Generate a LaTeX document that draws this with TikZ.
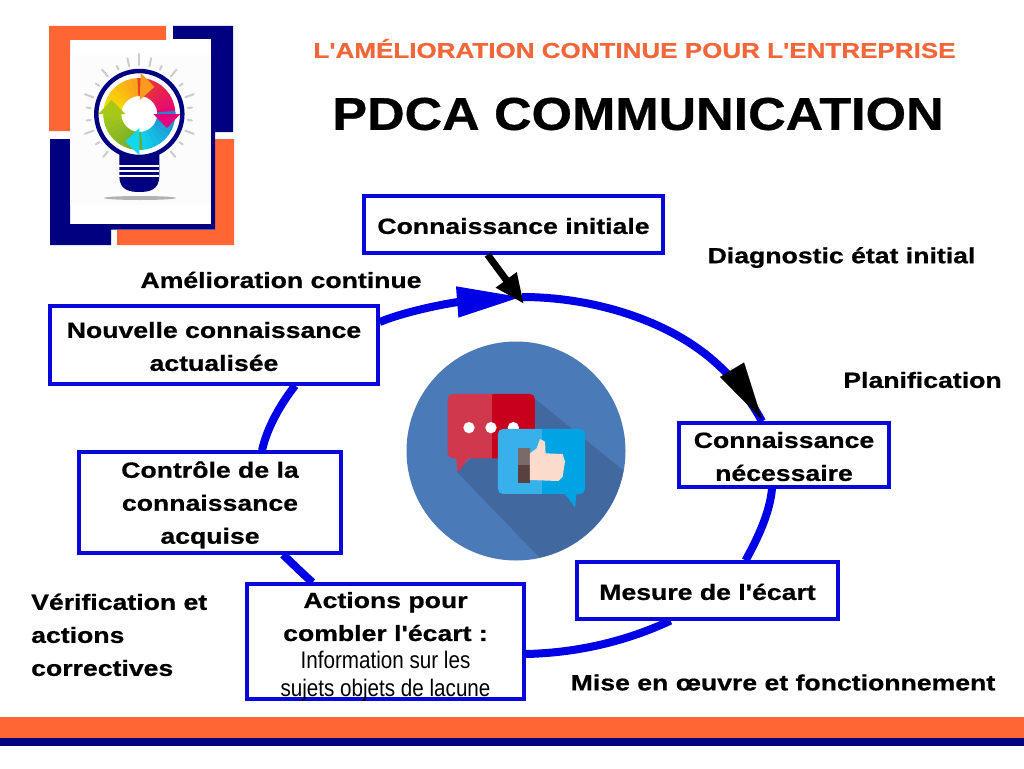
\documentclass[tikz,border=0pt]{standalone}
\usepackage{fontspec}
\setmainfont{Liberation Sans}
\newfontfamily\wb{Liberation Sans}[FakeStretch=1.21,BoldFeatures={FakeStretch=1.21,FakeBold=0.7}]
\newfontfamily\wt{Liberation Sans}[FakeStretch=1.13,BoldFeatures={FakeStretch=1.13,FakeBold=0.7}]
\newfontfamily\nrw{Liberation Sans}[FakeStretch=0.86]
\usetikzlibrary{arrows.meta,backgrounds}
\definecolor{ringblue}{HTML}{0000E6}
\definecolor{boxblue}{HTML}{0808DC}
\definecolor{navy}{HTML}{000080}
\definecolor{orng}{HTML}{FF6633}
\definecolor{ttl}{HTML}{F2673A}
\definecolor{disc}{HTML}{4A7AB8}
\definecolor{discd}{HTML}{41699F}
\definecolor{redl}{HTML}{D0384E}
\definecolor{redd}{HTML}{C8001E}
\definecolor{bluel}{HTML}{38B0EA}
\definecolor{blued}{HTML}{00A4E4}
\definecolor{slvl}{HTML}{7A6A6A}
\definecolor{slvd}{HTML}{5A4040}
\definecolor{skin}{HTML}{FBDCCC}
\definecolor{y1}{HTML}{F7E600}\definecolor{y2}{HTML}{FB9A1E}
\definecolor{r1}{HTML}{E84028}\definecolor{r2}{HTML}{E5007D}
\definecolor{b1}{HTML}{2088CC}\definecolor{b2}{HTML}{10D8F0}
\definecolor{g1}{HTML}{6CAB2E}\definecolor{g2}{HTML}{A8C818}
\newcommand{\up}[1]{\rule{0pt}{#1}}
\tikzset{
  kbox/.style={draw=boxblue,line width=3.2pt,fill=white,inner sep=0pt,align=center,
    font=\fontsize{22}{33}\selectfont\wb\bfseries},
  lbl/.style={inner sep=0pt,align=left,font=\fontsize{22}{33}\selectfont\wb\bfseries,text=black},
  ring/.style={draw=ringblue,line width=8pt,line cap=butt},
  ray/.style={draw=black!20,line width=2pt,line cap=round}
}
\newcommand{\ringbody}[3]{%
  \foreach \s in {0,...,9}{%
    \pgfmathsetmacro{\aa}{#1+95-\s*10}%
    \pgfmathsetmacro{\ab}{#1+95-(\s+1)*10-1}%
    \pgfmathtruncatemacro{\p}{100-\s*11}%
    \fill[#2!\p!#3] (\aa:18) arc[start angle=\aa,end angle=\ab,radius=18] -- (\ab:36)
      arc[start angle=\ab,end angle=\aa,radius=36] -- cycle;
  }}
\newcommand{\ringhead}[2]{%
  \fill[#2] (#1:14) -- (#1:41) -- ({#1-27}:31) -- cycle;}
\begin{document}
\begin{tikzpicture}[x=1pt,y=-1pt]
\useasboundingbox (0,0) rectangle (1024,768);
% logo frame
\fill[orng] (49,26) -- (166,26) -- (166,40) -- (70,40) -- (70,131) -- (49,131) -- cycle;
\fill[navy] (173,26) -- (233,26) -- (233,132) -- (215,132) -- (215,139) -- (211,139) -- (211,39) -- (173,39) -- cycle;
\fill[orng] (215,139) -- (234,139) -- (234,245) -- (117,245) -- (117,230) -- (215,230) -- cycle;
\fill[navy] (50,139) -- (70,139) -- (70,224) -- (211,224) -- (211,139) -- (215,139) -- (215,229.5) -- (111,229.5) -- (111,245) -- (50,245) -- cycle;
% logo bulb
\fill[black!1] (70,55) rectangle (211,205);
\begin{scope}[shift={(139.3,114)},yscale=-1]
  \foreach \a/\r in {-50/56,-35/53,-20/58,-7/53,7/53,20/58,35/53,50/58,65/53,78/57,90/60,102/57,115/53,130/58,145/53,160/58,173/53,187/53,200/58,215/53,230/56}{
    \draw[ray] (\a:49) -- (\a:\r);
  }
  \fill[navy] (-20,-34) -- (20,-34) -- (20,-62) .. controls (20,-76) and (10,-78) .. (0,-78) .. controls (-10,-78) and (-20,-76) .. (-20,-62) -- cycle;
  \fill[white] (-20,-51.3) rectangle (20,-52.7);
  \fill[white] (-20,-56.3) rectangle (20,-57.7);
  \fill[white] (-20,-61.3) rectangle (20,-62.7);
  \draw[navy,fill=white,line width=4.5pt] (0,0) circle[radius=43];
  \ringbody{88}{y1}{y2}
  \ringbody{-2}{r1}{r2}
  \ringbody{-90}{b1}{b2}
  \ringbody{180}{g1}{g2}
  \ringhead{88}{y2}
  \ringhead{0}{r2}
  \ringhead{-90}{b2}
  \ringhead{180}{g2}
  \fill[black!30] (0.7,-84) ellipse[x radius=36,y radius=2];
\end{scope}
% footer bars
\fill[orng] (0,717) rectangle (1024,738);
\fill[navy] (0,738) rectangle (1024,746);
% titles
\node[inner sep=0pt,text=ttl,font=\fontsize{21.5}{25}\selectfont\wb\bfseries] (t1) at (634.5,48.5) {L'AMÉLIORATION CONTINUE POUR L'ENTREPRISE};
\node[inner sep=0pt,font=\fontsize{46}{50}\selectfont\wt\bfseries] (t2) at (638,114) {PDCA COMMUNICATION};
% central icon
\fill[disc] (516,451) circle[radius=109.5];
\begin{scope}[shift={(390,330)},x=0.3333pt,y=-0.3333pt]
  \begin{scope}
    \clip (378,362) circle[radius=328];
    \fill[discd] (433,205) -- (705,425) -- (760,700) -- (450,684) -- (200,425) -- cycle;
  \end{scope}
  \fill[redl,rounded corners=5pt] (173,192) rectangle (320,385);
  \fill[redd,rounded corners=5pt] (295,192) rectangle (435,385);
  \fill[redl] (190,192) rectangle (305,385);
  \fill[redl] (198,380) -- (240,380) -- (203,428) -- cycle;
  \fill[white] (237,293) circle[radius=17] (303,293) circle[radius=17] (370,293) circle[radius=17];
  \fill[bluel,rounded corners=5pt] (324,297) rectangle (470,492);
  \fill[blued,rounded corners=5pt] (440,297) rectangle (585,492);
  \fill[bluel] (340,297) rectangle (455,492);
  \fill[blued] (522,488) -- (560,488) -- (555,532) -- cycle;
  \fill[slvl] (385,355) rectangle (420,405);
  \fill[slvd] (385,405) rectangle (420,458);
  \fill[skin] (420,370) -- (440,355) -- (450,327) -- (465,335) -- (467,370) -- (518,372) -- (525,395) -- (518,440) -- (505,453) -- (420,450) -- cycle;
\end{scope}
% boxes
\node[kbox,minimum width=299pt,minimum height=57pt] (initiale) at (513.5,224.5) {\up{19pt}Connaissance initiale};
\node[kbox,minimum width=328pt,minimum height=78pt] (nouvelle) at (214,345) {\up{19pt}Nouvelle connaissance\\actualisée};
\node[kbox,minimum width=210pt,minimum height=64pt] (necess) at (784,455) {\up{19pt}Connaissance\\nécessaire};
\node[kbox,minimum width=261pt,minimum height=57pt] (mesure) at (707.5,590.5) {\up{19pt}Mesure de l'écart};
\node[kbox,minimum width=262pt,minimum height=101pt] (controle) at (210,502.5) {\up{21pt}Contrôle de la\\connaissance\\acquise};
\node[draw=boxblue,line width=3.2pt,minimum width=277pt,minimum height=115pt,inner sep=0pt] (actions) at (385.5,641.5) {};
\node[lbl,align=center,anchor=center] (actionstxt) at (385.5,647) {Actions pour\\combler l'écart :\\[-5pt]{\fontsize{24}{28}\selectfont\nrw\mdseries Information sur les}\\[-5pt]{\fontsize{24}{28}\selectfont\nrw\mdseries sujets objets de lacune}};
% labels
\node[lbl,anchor=center] (l1) at (281,280) {Amélioration continue};
\node[lbl,anchor=center] (l2) at (841.5,257.5) {Diagnostic état initial};
\node[lbl,anchor=center] (l3) at (922.5,380) {Planification};
\node[lbl,anchor=north west] (l4) at (31,593.5) {Vérification et\\actions\\correctives};
\node[lbl,anchor=center] (l5) at (783,682.5) {Mise en œuvre et fonctionnement};
% ring connectors
\coordinate (hub) at (522,297);
\coordinate (hubtip) at (524,304);
\coordinate (headbase) at (731,368);
\begin{pgfonlayer}{background}
\draw[ring,-{Triangle[length=65pt,width=29pt,ringblue]}] ([yshift=23pt]nouvelle.east) .. controls (412,309) and (457,302) .. (hub);
\draw[ring] (hub) .. controls (588,297) and (655,317) .. (700,350) .. controls (725,368) and (748,395) .. ([xshift=-22pt]necess.north);
\draw[ring] ([xshift=-12pt]necess.south) .. controls (770,512) and (758,538) .. ([xshift=38pt]mesure.north);
\draw[ring] ([xshift=-37pt]mesure.south) .. controls (625,642) and (575,653) .. ([yshift=-12.5pt]actions.east);
\draw[ring] ([xshift=-73pt]actions.north) .. controls (303,574) and (294,565) .. ([xshift=73pt]controle.south);
\draw[ring] ([xshift=52pt]controle.north) .. controls (267,428) and (280,405) .. ([xshift=81pt]nouvelle.south);
\end{pgfonlayer}
\draw[line width=0.1pt,-{Triangle[length=58pt,width=28pt,black]}] (headbase) -- ([xshift=-22pt,yshift=2pt]necess.north);
\draw[draw=black,line width=7pt,-{Triangle[length=30pt,width=24pt,black]}] ([xshift=-26pt]initiale.south) -- (hubtip);
\end{tikzpicture}
\end{document}
